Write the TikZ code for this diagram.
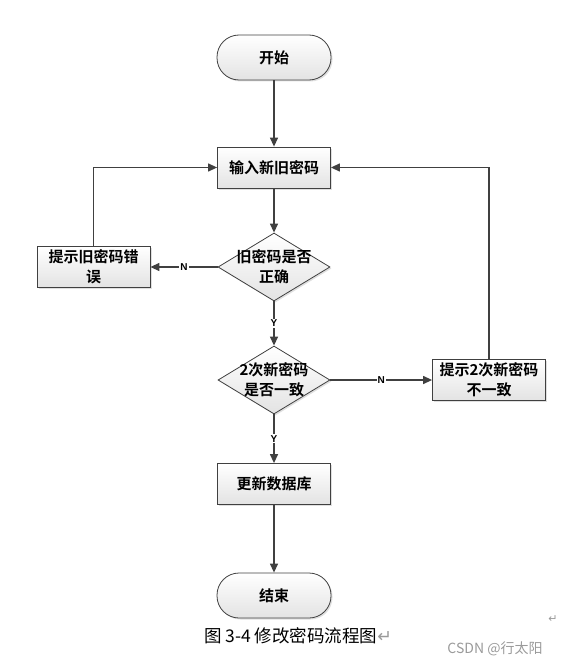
\documentclass[tikz,border=0pt]{standalone}
\usepackage{fontspec}
\setmainfont{Noto Sans CJK SC}[BoldFont={Noto Sans CJK SC Bold}]
\newfontfamily\labfont{Liberation Sans}
\newfontfamily\symfont{DejaVu Sans}
\usetikzlibrary{shapes.geometric,shadows,arrows.meta}
\definecolor{linegray}{HTML}{404040}
\definecolor{markgray}{HTML}{9A9A9A}
\newcommand\nodefont{\bfseries\fontsize{15}{20}\selectfont}
\tikzstyle{shaded} = [draw=linegray, line width=0.8pt, top color=white, bottom color=gray!22, drop shadow={shadow xshift=1.5pt,shadow yshift=-1.5pt,opacity=0.25}]
\tikzstyle{terminal} = [shaded, rectangle, rounded corners=22pt, minimum width=114pt, minimum height=45pt, font=\nodefont]
\tikzstyle{process} = [shaded, rectangle, minimum width=113pt, minimum height=41pt, align=center, inner sep=0pt, font=\nodefont]
\tikzstyle{decision} = [shaded, diamond, minimum width=112pt, minimum height=68pt, inner sep=0pt]
\tikzstyle{dtext} = [align=center, inner sep=0pt, font=\nodefont]
\tikzstyle{arrow} = [line width=1.3pt, draw=linegray, -{Triangle[length=9pt,width=8pt]}]
\tikzstyle{yn} = [fill=white, inner sep=1pt, font=\labfont\bfseries\fontsize{10}{10}\selectfont]

\begin{document}
\begin{tikzpicture}[x=1pt, y=1pt]
    \useasboundingbox (0,0) rectangle (560,-666);
    \node (start) [terminal] at (274,-57.5) {开始};
    \node (input) [process] at (274,-167.5) {输入新旧密码};
    \node (oldok) [decision, label={[dtext]center:{旧密码是否\\正确}}] at (274,-267) {};
    \node (olderr) [process] at (93.5,-267) {提示旧密码错\\误};
    \node (newok) [decision, label={[dtext]center:{2次新密码\\是否一致}}] at (274,-380) {};
    \node (newerr) [process] at (489,-380) {提示2次新密码\\不一致};
    \node (update) [process] at (274,-484) {更新数据库};
    \node (stop) [terminal] at (274,-595.5) {结束};

    \draw [arrow] (start) -- (input);
    \draw [arrow] (input) -- (oldok);
    \draw [arrow] (oldok.west) -- node[yn] {N} (olderr.east);
    \draw [arrow] (oldok.south) -- node[yn] {Y} (newok.north);
    \draw [arrow] (newok.east) -- node[yn] {N} (newerr.west);
    \draw [arrow] (newok.south) -- node[yn] {Y} (update.north);
    \draw [arrow] (update) -- (stop);
    \draw [arrow] (olderr.north) |- (input.west);
    \draw [arrow] (newerr.north) |- (input.east);

    % caption and marks
    \node (caption) [font=\fontsize{17.5}{17.5}\selectfont] at (298,-636) {图 3-4 修改密码流程图{\symfont\color{markgray}↵}};
    \node (endmark) [text=markgray, font=\symfont\fontsize{11}{11}\selectfont] at (553,-619) {↵};
    \node (credit) [text=markgray, font=\fontsize{14}{14}\selectfont] at (495,-649) {CSDN @行太阳};
\end{tikzpicture}
\end{document}
